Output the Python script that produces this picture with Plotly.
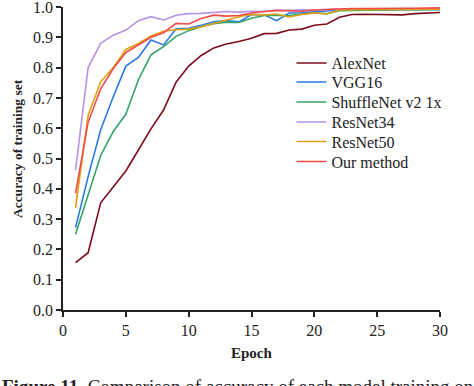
import plotly.graph_objects as go

epochs = list(range(1, 31))

alexnet = [0.156, 0.189, 0.354, 0.407, 0.459, 0.528, 0.598, 0.660, 0.752, 0.805,
           0.840, 0.865, 0.878, 0.886, 0.897, 0.912, 0.913, 0.924, 0.927, 0.940,
           0.944, 0.966, 0.975, 0.976, 0.976, 0.976, 0.974, 0.978, 0.980, 0.982]
vgg16 = [0.272, 0.440, 0.595, 0.704, 0.805, 0.834, 0.891, 0.875, 0.928, 0.930,
         0.940, 0.951, 0.955, 0.951, 0.975, 0.974, 0.955, 0.980, 0.981, 0.985,
         0.987, 0.990, 0.990, 0.991, 0.991, 0.992, 0.992, 0.992, 0.992, 0.992]
shufflenet = [0.250, 0.380, 0.510, 0.589, 0.646, 0.760, 0.842, 0.869, 0.903, 0.922,
              0.935, 0.945, 0.950, 0.949, 0.963, 0.972, 0.973, 0.972, 0.977, 0.980,
              0.978, 0.988, 0.989, 0.990, 0.990, 0.991, 0.991, 0.991, 0.991, 0.991]
resnet34 = [0.462, 0.800, 0.880, 0.907, 0.924, 0.955, 0.968, 0.957, 0.973, 0.978,
            0.979, 0.981, 0.985, 0.983, 0.986, 0.985, 0.990, 0.988, 0.991, 0.990,
            0.992, 0.993, 0.993, 0.994, 0.994, 0.994, 0.994, 0.994, 0.995, 0.995]
resnet50 = [0.337, 0.643, 0.753, 0.800, 0.860, 0.880, 0.904, 0.920, 0.925, 0.927,
            0.935, 0.946, 0.959, 0.968, 0.975, 0.974, 0.977, 0.967, 0.975, 0.980,
            0.977, 0.990, 0.991, 0.991, 0.992, 0.992, 0.992, 0.993, 0.993, 0.993]
ours = [0.385, 0.620, 0.730, 0.797, 0.850, 0.875, 0.900, 0.915, 0.946, 0.944,
        0.962, 0.973, 0.970, 0.972, 0.980, 0.985, 0.988, 0.988, 0.986, 0.990,
        0.992, 0.994, 0.995, 0.995, 0.996, 0.996, 0.996, 0.996, 0.997, 0.997]

series = [
    ("AlexNet", alexnet, "#7d0c1c"),
    ("VGG16", vgg16, "#2a7ae2"),
    ("ShuffleNet v2 1x", shufflenet, "#35a46a"),
    ("ResNet34", resnet34, "#b792e6"),
    ("ResNet50", resnet50, "#e0a010"),
    ("Our method", ours, "#f24a4a"),
]

x_ticks = [0, 5, 10, 15, 20, 25, 30]
y_ticks = [0.0, 0.1, 0.2, 0.3, 0.4, 0.5, 0.6, 0.7, 0.8, 0.9, 1.0]

font_family = "Liberation Serif"
ink = "#222222"

# legend row positions (paper y of each entry's centre)
legend_rows = [0.815, 0.752, 0.686, 0.620, 0.556, 0.490]
legend_names = ["legend", "legend2", "legend3", "legend4", "legend5", "legend6"]

fig = go.Figure()
for (name, vals, color), lg in zip(series, legend_names):
    fig.add_trace(go.Scatter(x=epochs, y=vals, mode="lines", name=name,
                             legend=lg, line=dict(color=color, width=1.6)))

layout_legends = {}
for lg, ly in zip(legend_names, legend_rows):
    layout_legends[lg] = dict(x=0.606, y=ly, xanchor="left", yanchor="middle",
                              font=dict(family=font_family, size=16, color=ink),
                              bgcolor="rgba(0,0,0,0)", borderwidth=0,
                              itemwidth=30)

fig.update_layout(
    template="none",
    width=474, height=386,
    margin=dict(l=63, r=34, t=7, b=76, autoexpand=False),
    paper_bgcolor="white", plot_bgcolor="white",
    font=dict(family=font_family, color=ink, size=16),
    showlegend=True,
    **layout_legends,
    xaxis=dict(range=[0, 30], tickvals=x_ticks, ticktext=[str(t) for t in x_ticks],
               showgrid=False, zeroline=False, showline=True, linecolor=ink,
               linewidth=1.5, ticks="outside", ticklen=5, tickwidth=1.5,
               tickcolor=ink, automargin=False, ticklabeloverflow="allow",
               tickfont=dict(family=font_family, size=16, color=ink)),
    yaxis=dict(range=[0, 1.0], tickvals=y_ticks,
               ticktext=["%.1f" % t for t in y_ticks],
               showgrid=False, zeroline=False, showline=True, linecolor=ink,
               linewidth=1.5, ticks="outside", ticklen=5, tickwidth=1.5,
               tickcolor=ink, automargin=False, ticklabeloverflow="allow",
               tickfont=dict(family=font_family, size=16, color=ink)),
)

fig.add_annotation(text="<b>Epoch</b>", xref="paper", yref="paper", x=0.5, y=-0.142,
                   xanchor="center", yanchor="middle", showarrow=False,
                   font=dict(family=font_family, size=15, color=ink))
fig.add_annotation(text="<b>Accuracy of training set</b>", xref="paper", yref="paper",
                   x=-0.122, y=0.531, xanchor="center", yanchor="middle",
                   textangle=-90, showarrow=False,
                   font=dict(family=font_family, size=13.5, color=ink))
fig.add_annotation(
    text="<b>Figure 11.</b> Comparison of accuracy of each model training on",
    xref="paper", yref="paper", x=-0.167, y=-0.254, xanchor="left", yanchor="middle",
    showarrow=False, font=dict(family=font_family, size=19, color=ink))

fig.write_html("out.html", config={"displayModeBar": False},
               post_script="document.body.style.margin='0';")
